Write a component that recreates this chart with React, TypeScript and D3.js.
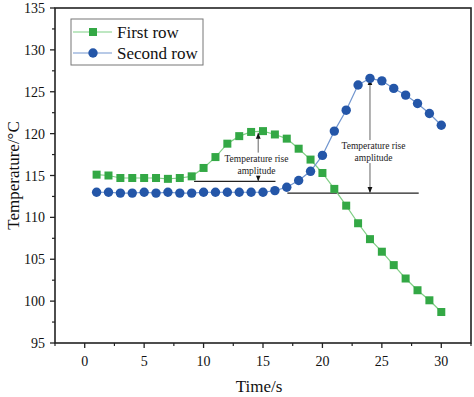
import React from 'react';
import * as d3 from 'd3';

const width = 474;
const height = 397;
const margin = { top: 8, right: 3, bottom: 54, left: 55 };
const green = '#33a845';
const greenLine = '#7fcf85';
const blue = '#2456a8';
const blueLine = '#7296cf';
const font = "'Liberation Serif', 'Times New Roman', 'DejaVu Serif', serif";

// data
const times = [1, 2, 3, 4, 5, 6, 7, 8, 9, 10, 11, 12, 13, 14, 15, 16, 17, 18, 19, 20, 21, 22, 23, 24, 25, 26, 27, 28, 29, 30];
const firstRow = [115.1, 115.0, 114.7, 114.7, 114.7, 114.7, 114.6, 114.7, 114.9, 115.9, 117.2, 118.8, 119.7, 120.2, 120.3, 119.9, 119.4, 118.2, 116.9, 115.3, 113.4, 111.4, 109.3, 107.4, 105.9, 104.3, 102.7, 101.3, 100.1, 98.7];
const secondRow = [113.0, 113.0, 112.9, 112.9, 113.0, 112.9, 113.0, 112.9, 112.9, 113.0, 113.0, 113.0, 113.0, 113.0, 113.0, 113.2, 113.6, 114.4, 115.5, 117.4, 120.3, 122.8, 125.8, 126.6, 126.3, 125.4, 124.6, 123.6, 122.4, 121.0];

const xTicks = [0, 5, 10, 15, 20, 25, 30];
const xMinor = [-2.5, 2.5, 7.5, 12.5, 17.5, 22.5, 27.5, 32.5];
const yTicks = [95, 100, 105, 110, 115, 120, 125, 130, 135];
const yMinor = [97.5, 102.5, 107.5, 112.5, 117.5, 122.5, 127.5, 132.5];

// annotations: baseline level, x-range of baseline, arrow x, arrow top, label centre
const annotations = [
  { base: 114.3, from: 9.2, to: 16.05, ax: 14.6, top: 120.1, tx: 14.45, ty: 116.3 },
  { base: 112.9, from: 17.05, to: 28.1, ax: 24.0, top: 126.5, tx: 24.3, ty: 117.8 },
];

const x = d3.scaleLinear().domain([-2.5, 32.5]).range([margin.left, width - margin.right]);
const y = d3.scaleLinear().domain([95, 135]).range([height - margin.bottom, margin.top]);

const line = d3
  .line<number>()
  .x((_, i) => x(times[i]))
  .y((d) => y(d));

export default function App() {
  const x0 = x.range()[0];
  const x1 = x.range()[1];
  const y0 = y.range()[0];
  const y1 = y.range()[1];
  return (
    <svg
      width={width}
      height={height}
      fontFamily={font}
      style={{ position: 'absolute', left: 0, top: 0, background: '#fff', fontFamily: font }}
    >
      <defs>
        <marker id="ah" viewBox="0 0 10 10" refX="10" refY="5" markerWidth="6" markerHeight="8" orient="auto-start-reverse" markerUnits="userSpaceOnUse">
          <path d="M0,1 L10,5 L0,9 z" fill="#111" />
        </marker>
      </defs>

      {/* annotations */}
      {annotations.map((a, i) => (
        <g key={i}>
          <line x1={x(a.from)} x2={x(a.to)} y1={y(a.base)} y2={y(a.base)} stroke="#222" strokeWidth={1.3} />
          <line
            x1={x(a.ax)}
            x2={x(a.ax)}
            y1={y(a.base)}
            y2={y(a.top)}
            stroke="#888"
            strokeWidth={1.3}
            markerStart="url(#ah)"
            markerEnd="url(#ah)"
          />
          <rect x={x(a.tx) - 34} y={y(a.ty) - 12} width={68} height={23} fill="#fff" />
          <text x={x(a.tx)} y={y(a.ty) - 3} textAnchor="middle" fontSize={9.5} fill="#222">
            Temperature rise
          </text>
          <text x={x(a.tx)} y={y(a.ty) + 9} textAnchor="middle" fontSize={9.5} fill="#222">
            amplitude
          </text>
        </g>
      ))}

      {/* series */}
      <path d={line(firstRow) ?? ''} fill="none" stroke={greenLine} strokeWidth={1.2} />
      <path d={line(secondRow) ?? ''} fill="none" stroke={blueLine} strokeWidth={1.2} />
      {firstRow.map((v, i) => (
        <rect key={'g' + i} x={x(times[i]) - 4} y={y(v) - 4} width={8} height={8} fill={green} />
      ))}
      {secondRow.map((v, i) => (
        <circle key={'b' + i} cx={x(times[i])} cy={y(v)} r={4.7} fill={blue} />
      ))}

      {/* frame */}
      <rect x={x0} y={y1} width={x1 - x0} height={y0 - y1} fill="none" stroke="#222" strokeWidth={1.6} />

      {/* x axis */}
      {xTicks.map((t) => (
        <g key={'xt' + t}>
          <line x1={x(t)} x2={x(t)} y1={y0} y2={y0 + 5} stroke="#222" strokeWidth={1.3} />
          <text x={x(t)} y={y0 + 23} textAnchor="middle" fontSize={14} fill="#111">
            {t}
          </text>
        </g>
      ))}
      {xMinor.map((t) => (
        <line key={'xm' + t} x1={x(t)} x2={x(t)} y1={y0} y2={y0 + 3} stroke="#222" strokeWidth={1.2} />
      ))}

      {/* y axis */}
      {yTicks.map((t) => (
        <g key={'yt' + t}>
          <line x1={x0 - 5} x2={x0} y1={y(t)} y2={y(t)} stroke="#222" strokeWidth={1.3} />
          <text x={x0 - 10} y={y(t) + 5} textAnchor="end" fontSize={14} fill="#111">
            {t}
          </text>
        </g>
      ))}
      {yMinor.map((t) => (
        <line key={'ym' + t} x1={x0 - 3} x2={x0} y1={y(t)} y2={y(t)} stroke="#222" strokeWidth={1.2} />
      ))}

      {/* axis titles */}
      <text x={(x0 + x1) / 2 - 4} y={height - 5} textAnchor="middle" fontSize={17} fill="#111">
        Time/s
      </text>
      <text
        transform={`translate(19, ${(y0 + y1) / 2}) rotate(-90)`}
        textAnchor="middle"
        fontSize={17}
        fill="#111"
      >
        Temperature/°C
      </text>

      {/* legend */}
      <g>
        <rect x={71} y={19} width={132} height={46} fill="#fff" stroke="#777" strokeWidth={1} />
        <line x1={73} x2={112} y1={32} y2={32} stroke={greenLine} strokeWidth={1.2} />
        <rect x={89} y={28} width={8} height={8} fill={green} />
        <text x={117} y={38} fontSize={17} fill="#111">First row</text>
        <line x1={73} x2={112} y1={53} y2={53} stroke={blueLine} strokeWidth={1.2} />
        <circle cx={93} cy={53} r={4.7} fill={blue} />
        <text x={117} y={59} fontSize={17} fill="#111">Second row</text>
      </g>
    </svg>
  );
}
